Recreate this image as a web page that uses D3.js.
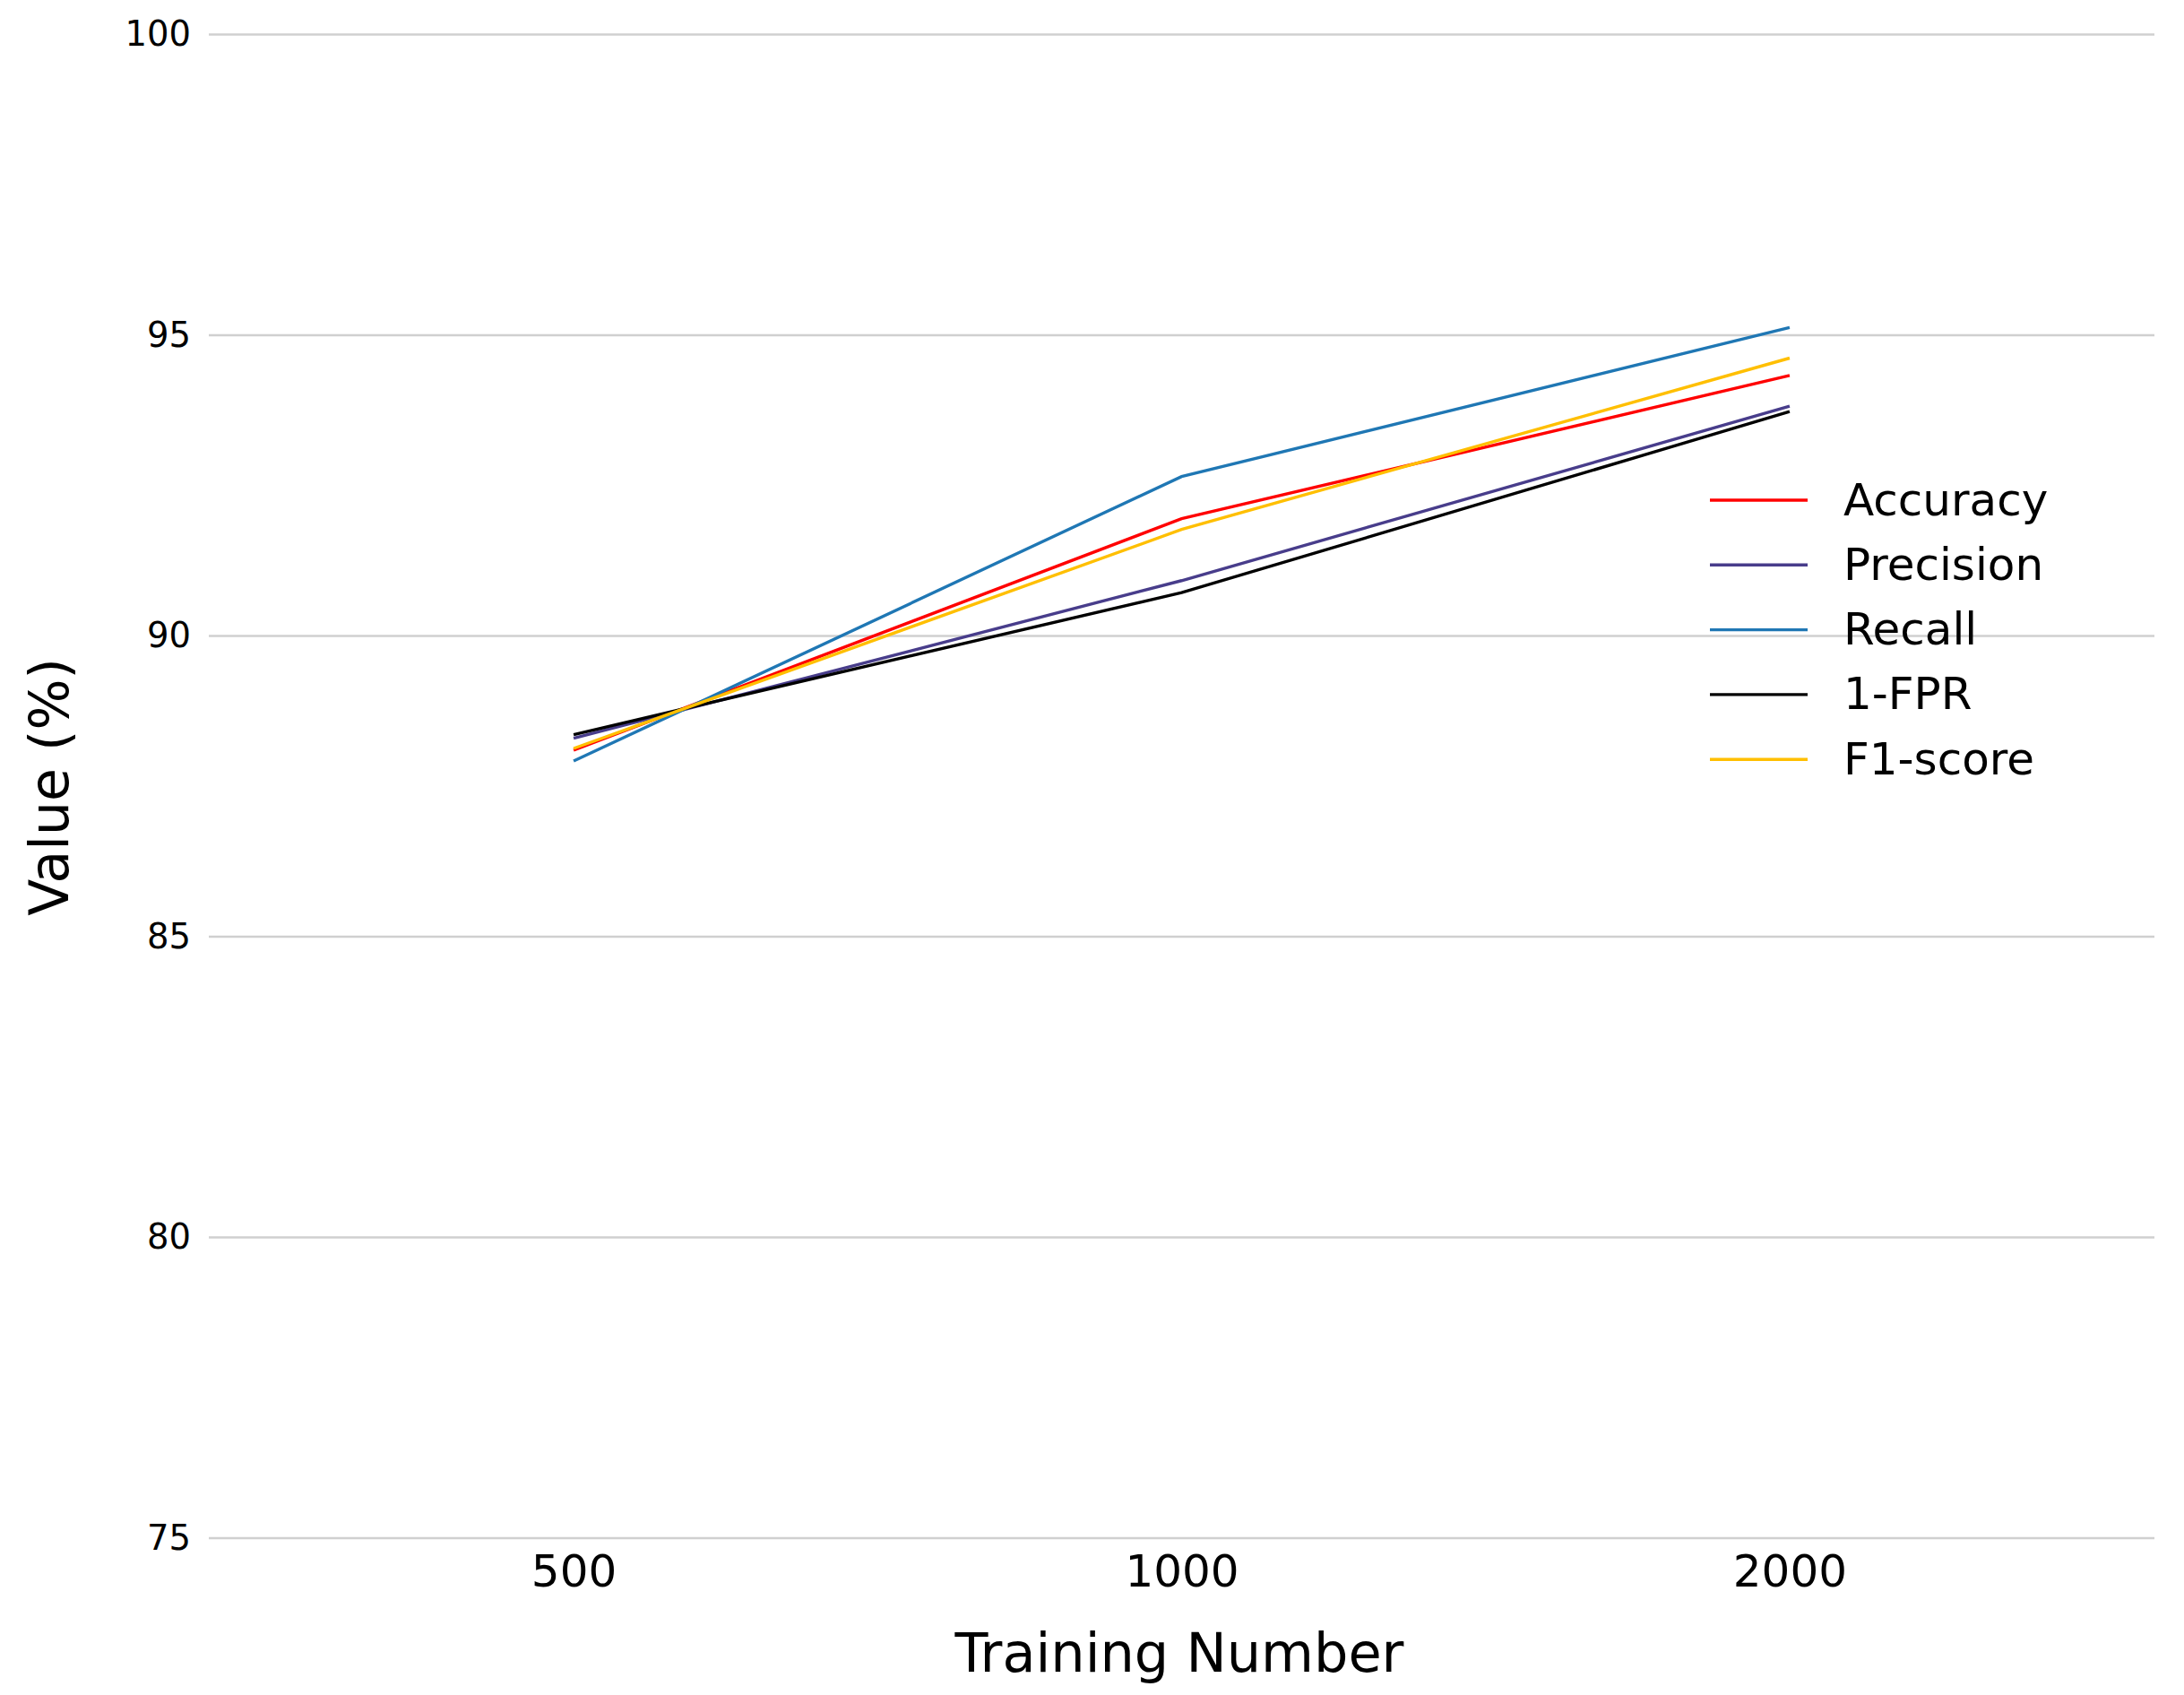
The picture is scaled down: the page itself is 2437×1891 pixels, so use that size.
<!DOCTYPE html>
<html>
<head>
<meta charset="utf-8">
<script src="https://cdn.jsdelivr.net/npm/d3@7"></script>
<style>
  html, body { margin: 0; padding: 0; background: #ffffff; }
  svg { display: block; }
  text { font-family: "DejaVu Sans", sans-serif; fill: #000; }
</style>
</head>
<body>
<svg id="chart" width="2437" height="1891"></svg>
<script>
const categories = ["500", "1000", "2000"];
const seriesNames = ["Accuracy", "Precision", "Recall", "1-FPR", "F1-score"];
const accuracy  = [88.1, 91.95, 94.33];
const precision = [88.3, 90.92, 93.82];
const recall    = [87.92, 92.65, 95.13];
const fpr1      = [88.36, 90.72, 93.73];
const f1score   = [88.13, 91.77, 94.62];
const yTicks = [75, 80, 85, 90, 95, 100];
const colors = ["#ff0000", "#483d8b", "#1f77b4", "#000000", "#ffbf00"];

const seriesValues = [accuracy, precision, recall, fpr1, f1score];

const svg = d3.select("#chart");
const plotLeft = 233, plotRight = 2404, plotTop = 38.5, plotBottom = 1716;

const x = d3.scalePoint().domain(categories).range([plotLeft, plotRight]).padding(0.6);
const y = d3.scaleLinear().domain([75, 100]).range([plotBottom, plotTop]);

// gridlines
svg.append("g").selectAll("line").data(yTicks).join("line")
  .attr("x1", plotLeft).attr("x2", plotRight)
  .attr("y1", d => y(d)).attr("y2", d => y(d))
  .attr("stroke", "#d0d0d0").attr("stroke-width", 2.6);

// y axis labels
const yAxis = d3.axisLeft(y).tickValues(yTicks).tickSize(0).tickPadding(20);
const gy = svg.append("g").attr("transform", `translate(${plotLeft},0)`).call(yAxis);
gy.select(".domain").remove();
gy.selectAll("text").style("font-size", "38.5px").attr("font-family", "DejaVu Sans").attr("fill", "#000");

// x axis labels
const xAxis = d3.axisBottom(x).tickSize(0).tickPadding(18);
const gx = svg.append("g").attr("transform", `translate(0,${plotBottom})`).call(xAxis);
gx.select(".domain").remove();
gx.selectAll("text").style("font-size", "50px").attr("font-family", "DejaVu Sans").attr("fill", "#000");

// lines
const line = d3.line().x((d, i) => x(categories[i])).y(d => y(d));
seriesValues.forEach((vals, k) => {
  svg.append("path").datum(vals)
    .attr("d", line)
    .attr("fill", "none")
    .attr("stroke", colors[k])
    .attr("stroke-width", 3.4);
});

// axis titles
svg.append("text")
  .attr("x", 1316).attr("y", 1848)
  .attr("text-anchor", "middle").attr("dominant-baseline", "middle")
  .style("font-size", "60.5px").text("Training Number");

svg.append("text")
  .attr("transform", "translate(59,878) rotate(-90)")
  .attr("text-anchor", "middle").attr("dominant-baseline", "middle")
  .style("font-size", "60px").text("Value (%)");

// legend
const legend = svg.append("g");
seriesNames.forEach((name, k) => {
  const ly = 558 + k * 72.3;
  legend.append("line")
    .attr("x1", 1908).attr("x2", 2017)
    .attr("y1", ly).attr("y2", ly)
    .attr("stroke", colors[k]).attr("stroke-width", 3.4);
  legend.append("text")
    .attr("x", 2057).attr("y", ly).attr("dy", "0.33em")
    .style("font-size", "50px").text(name);
});
</script>
</body>
</html>
